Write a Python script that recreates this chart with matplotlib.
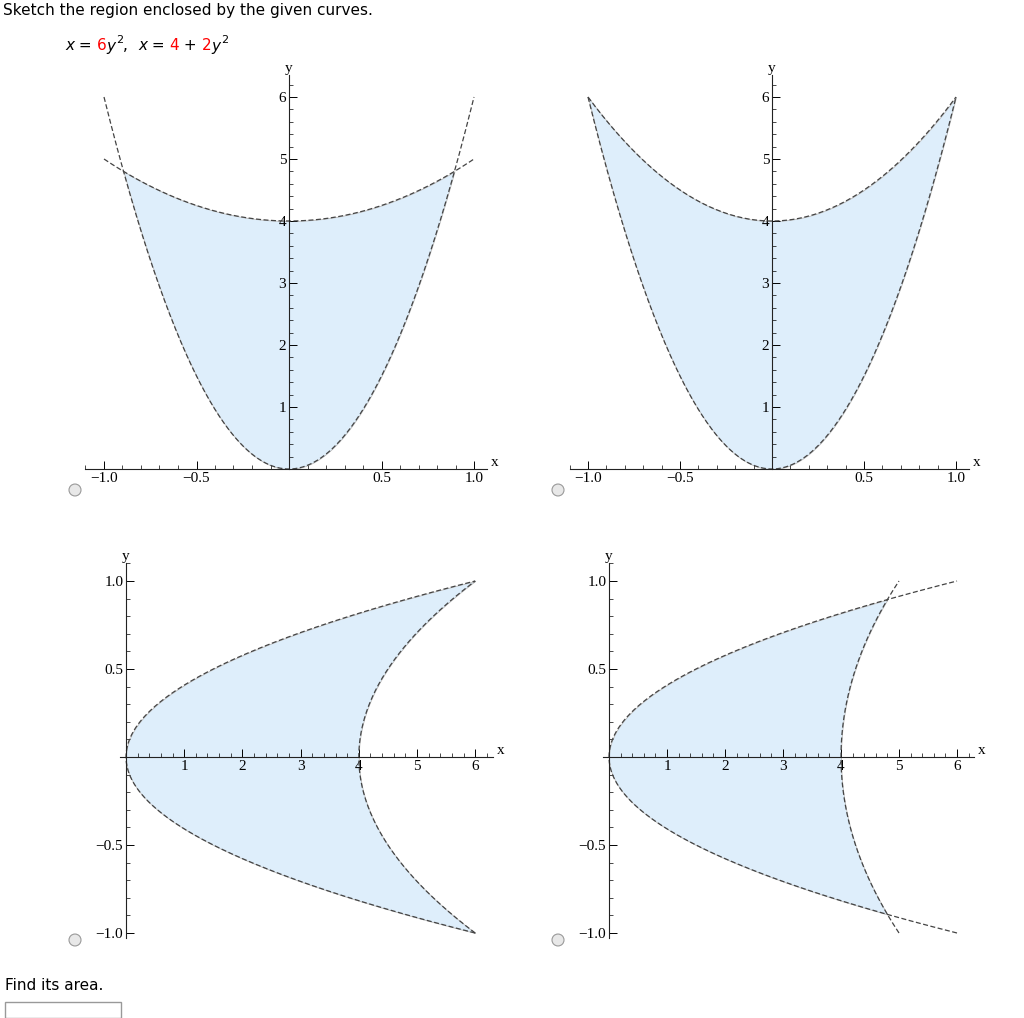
import numpy as np
import matplotlib
matplotlib.use("Agg")
import matplotlib.pyplot as plt
from matplotlib.ticker import MultipleLocator, FixedLocator
from matplotlib.patches import Circle, Rectangle

W, H = 1024, 1018
fill_col = "#deeefb"
line_col = "#444444"
serif = "Liberation Serif"

fig = plt.figure(figsize=(W / 100, H / 100), dpi=100)

# pixel helpers -> figure fraction
def rect_from(x0px, xscale, xlim, y0px, yscale, ylim):
    left = x0px + xlim[0] * xscale
    right = x0px + xlim[1] * xscale
    top = y0px - ylim[1] * yscale
    bottom = y0px - ylim[0] * yscale
    return [left / W, 1 - bottom / H, (right - left) / W, (bottom - top) / H]

def style_axes(ax, xlim, ylim, xmajor, ymajor, xminor, yminor, xfmt, yfmt):
    ax.set_xlim(*xlim)
    ax.set_ylim(*ylim)
    ax.patch.set_alpha(0)
    for s in ["top", "right"]:
        ax.spines[s].set_visible(False)
    ax.spines["left"].set_position(("data", 0))
    ax.spines["bottom"].set_position(("data", 0))
    for s in ["left", "bottom"]:
        ax.spines[s].set_linewidth(0.8)
        ax.spines[s].set_color("#222222")
    ax.xaxis.set_major_locator(FixedLocator(xmajor))
    ax.yaxis.set_major_locator(FixedLocator(ymajor))
    ax.xaxis.set_minor_locator(MultipleLocator(xminor))
    ax.yaxis.set_minor_locator(MultipleLocator(yminor))
    ax.set_xticklabels([xfmt(v).replace("-", "\u2212") for v in xmajor], family=serif, fontsize=11)
    ax.set_yticklabels([yfmt(v).replace("-", "\u2212") for v in ymajor], family=serif, fontsize=11)
    ax.tick_params(which="major", direction="in", length=6, width=0.7, pad=2)
    ax.tick_params(which="minor", direction="in", length=3, width=0.5)
    ax.text(1.01, 0, "x", transform=ax.get_yaxis_transform(), family=serif, fontsize=11, va="bottom")
    ax.text(0, 1.0, "y", transform=ax.get_xaxis_transform(), family=serif, fontsize=11, ha="center", va="bottom")

dash = dict(color=line_col, lw=0.9, ls=(0, (4, 2)))

# ---- top panels: curves as y = f(x)
tx = np.linspace(-1, 1, 400)
top_xlim = (-1.1, 1.07)
top_ylim = (0, 6.35)
top_xt = [-1.0, -0.5, 0.5, 1.0]
top_yt = [1, 2, 3, 4, 5, 6]

# top-left: 6x^2 and 4+x^2
ax = fig.add_axes(rect_from(289, 185, top_xlim, 469, 62, top_ylim))
style_axes(ax, top_xlim, top_ylim, top_xt, top_yt, 0.1, 0.2, lambda v: f"{v:.1f}", lambda v: f"{v:d}")
xi = np.sqrt(0.8)
xs = np.linspace(-xi, xi, 300)
ax.fill_between(xs, 6 * xs**2, 4 + xs**2, color=fill_col, ec="#bbbbbb", lw=0.6, zorder=1)
ax.plot(tx, 6 * tx**2, **dash)
ax.plot(tx, 4 + tx**2, **dash)

# top-right: 6x^2 and 4+2x^2
ax = fig.add_axes(rect_from(772, 184, top_xlim, 469, 62, top_ylim))
style_axes(ax, top_xlim, top_ylim, top_xt, top_yt, 0.1, 0.2, lambda v: f"{v:.1f}", lambda v: f"{v:d}")
ax.fill_between(tx, 6 * tx**2, 4 + 2 * tx**2, color=fill_col, ec="#bbbbbb", lw=0.6, zorder=1)
ax.plot(tx, 6 * tx**2, **dash)
ax.plot(tx, 4 + 2 * tx**2, **dash)

# ---- bottom panels: curves as x = f(y)
ty = np.linspace(-1, 1, 400)
bot_xlim = (-0.1, 6.3)
bot_ylim = (-1.03, 1.1)
bot_xt = [1, 2, 3, 4, 5, 6]
bot_yt = [-1.0, -0.5, 0.5, 1.0]

ax = fig.add_axes(rect_from(126, 58.2, bot_xlim, 757, 176, bot_ylim))
style_axes(ax, bot_xlim, bot_ylim, bot_xt, bot_yt, 0.2, 0.1, lambda v: f"{v:d}", lambda v: f"{v:.1f}")
ax.fill_betweenx(ty, 6 * ty**2, 4 + 2 * ty**2, color=fill_col, ec="#bbbbbb", lw=0.6, zorder=1)
ax.plot(6 * ty**2, ty, **dash)
ax.plot(4 + 2 * ty**2, ty, **dash)

ax = fig.add_axes(rect_from(609, 58, bot_xlim, 757, 176, bot_ylim))
style_axes(ax, bot_xlim, bot_ylim, bot_xt, bot_yt, 0.2, 0.1, lambda v: f"{v:d}", lambda v: f"{v:.1f}")
ys = np.linspace(-np.sqrt(0.8), np.sqrt(0.8), 300)
ax.fill_betweenx(ys, 6 * ys**2, 4 + ys**2, color=fill_col, ec="#bbbbbb", lw=0.6, zorder=1)
ax.plot(6 * ty**2, ty, **dash)
ax.plot(4 + ty**2, ty, **dash)

# ---- page text and widgets
fig.text(3 / W, 1 - 10 / H, "Sketch the region enclosed by the given curves.", fontsize=11, va="center")
eq_x = 65
parts = [("x", "black"), (" = ", "black"), ("6", "red"), ("y", "black"), ("2", "black"),
         (",  ", "black"), ("x", "black"), (" = ", "black"),
         ("4", "red"), (" + ", "black"), ("2", "red"), ("y", "black"), ("2", "black")]
renderer = fig.canvas.get_renderer()
cx = eq_x
for s, c in parts:
    sup = s == "2" and c == "black"
    tt = fig.text(cx / W, 1 - (40 if sup else 46) / H, s, color=c,
                  fontsize=8 if sup else 11, va="center",
                  style="italic" if s in ("x", "y") else "normal")
    cx += tt.get_window_extent(renderer).width + (1 if s == "y" else 0)

fig.text(5 / W, 1 - 986 / H, "Find its area.", fontsize=11, va="center")
fig.add_artist(Rectangle((5 / W, 1 - 1018 / H), 116 / W, 16 / H, transform=fig.transFigure,
                         fill=False, ec="#999999", lw=1))
for (px, py) in [(75, 490), (558, 490), (75, 940), (558, 940)]:
    fig.add_artist(Circle((px / W, 1 - py / H), 6 / W, transform=fig.transFigure,
                          fc="#e8e8e8", ec="#999999", lw=0.8))

fig.savefig("out.png", dpi=100)
